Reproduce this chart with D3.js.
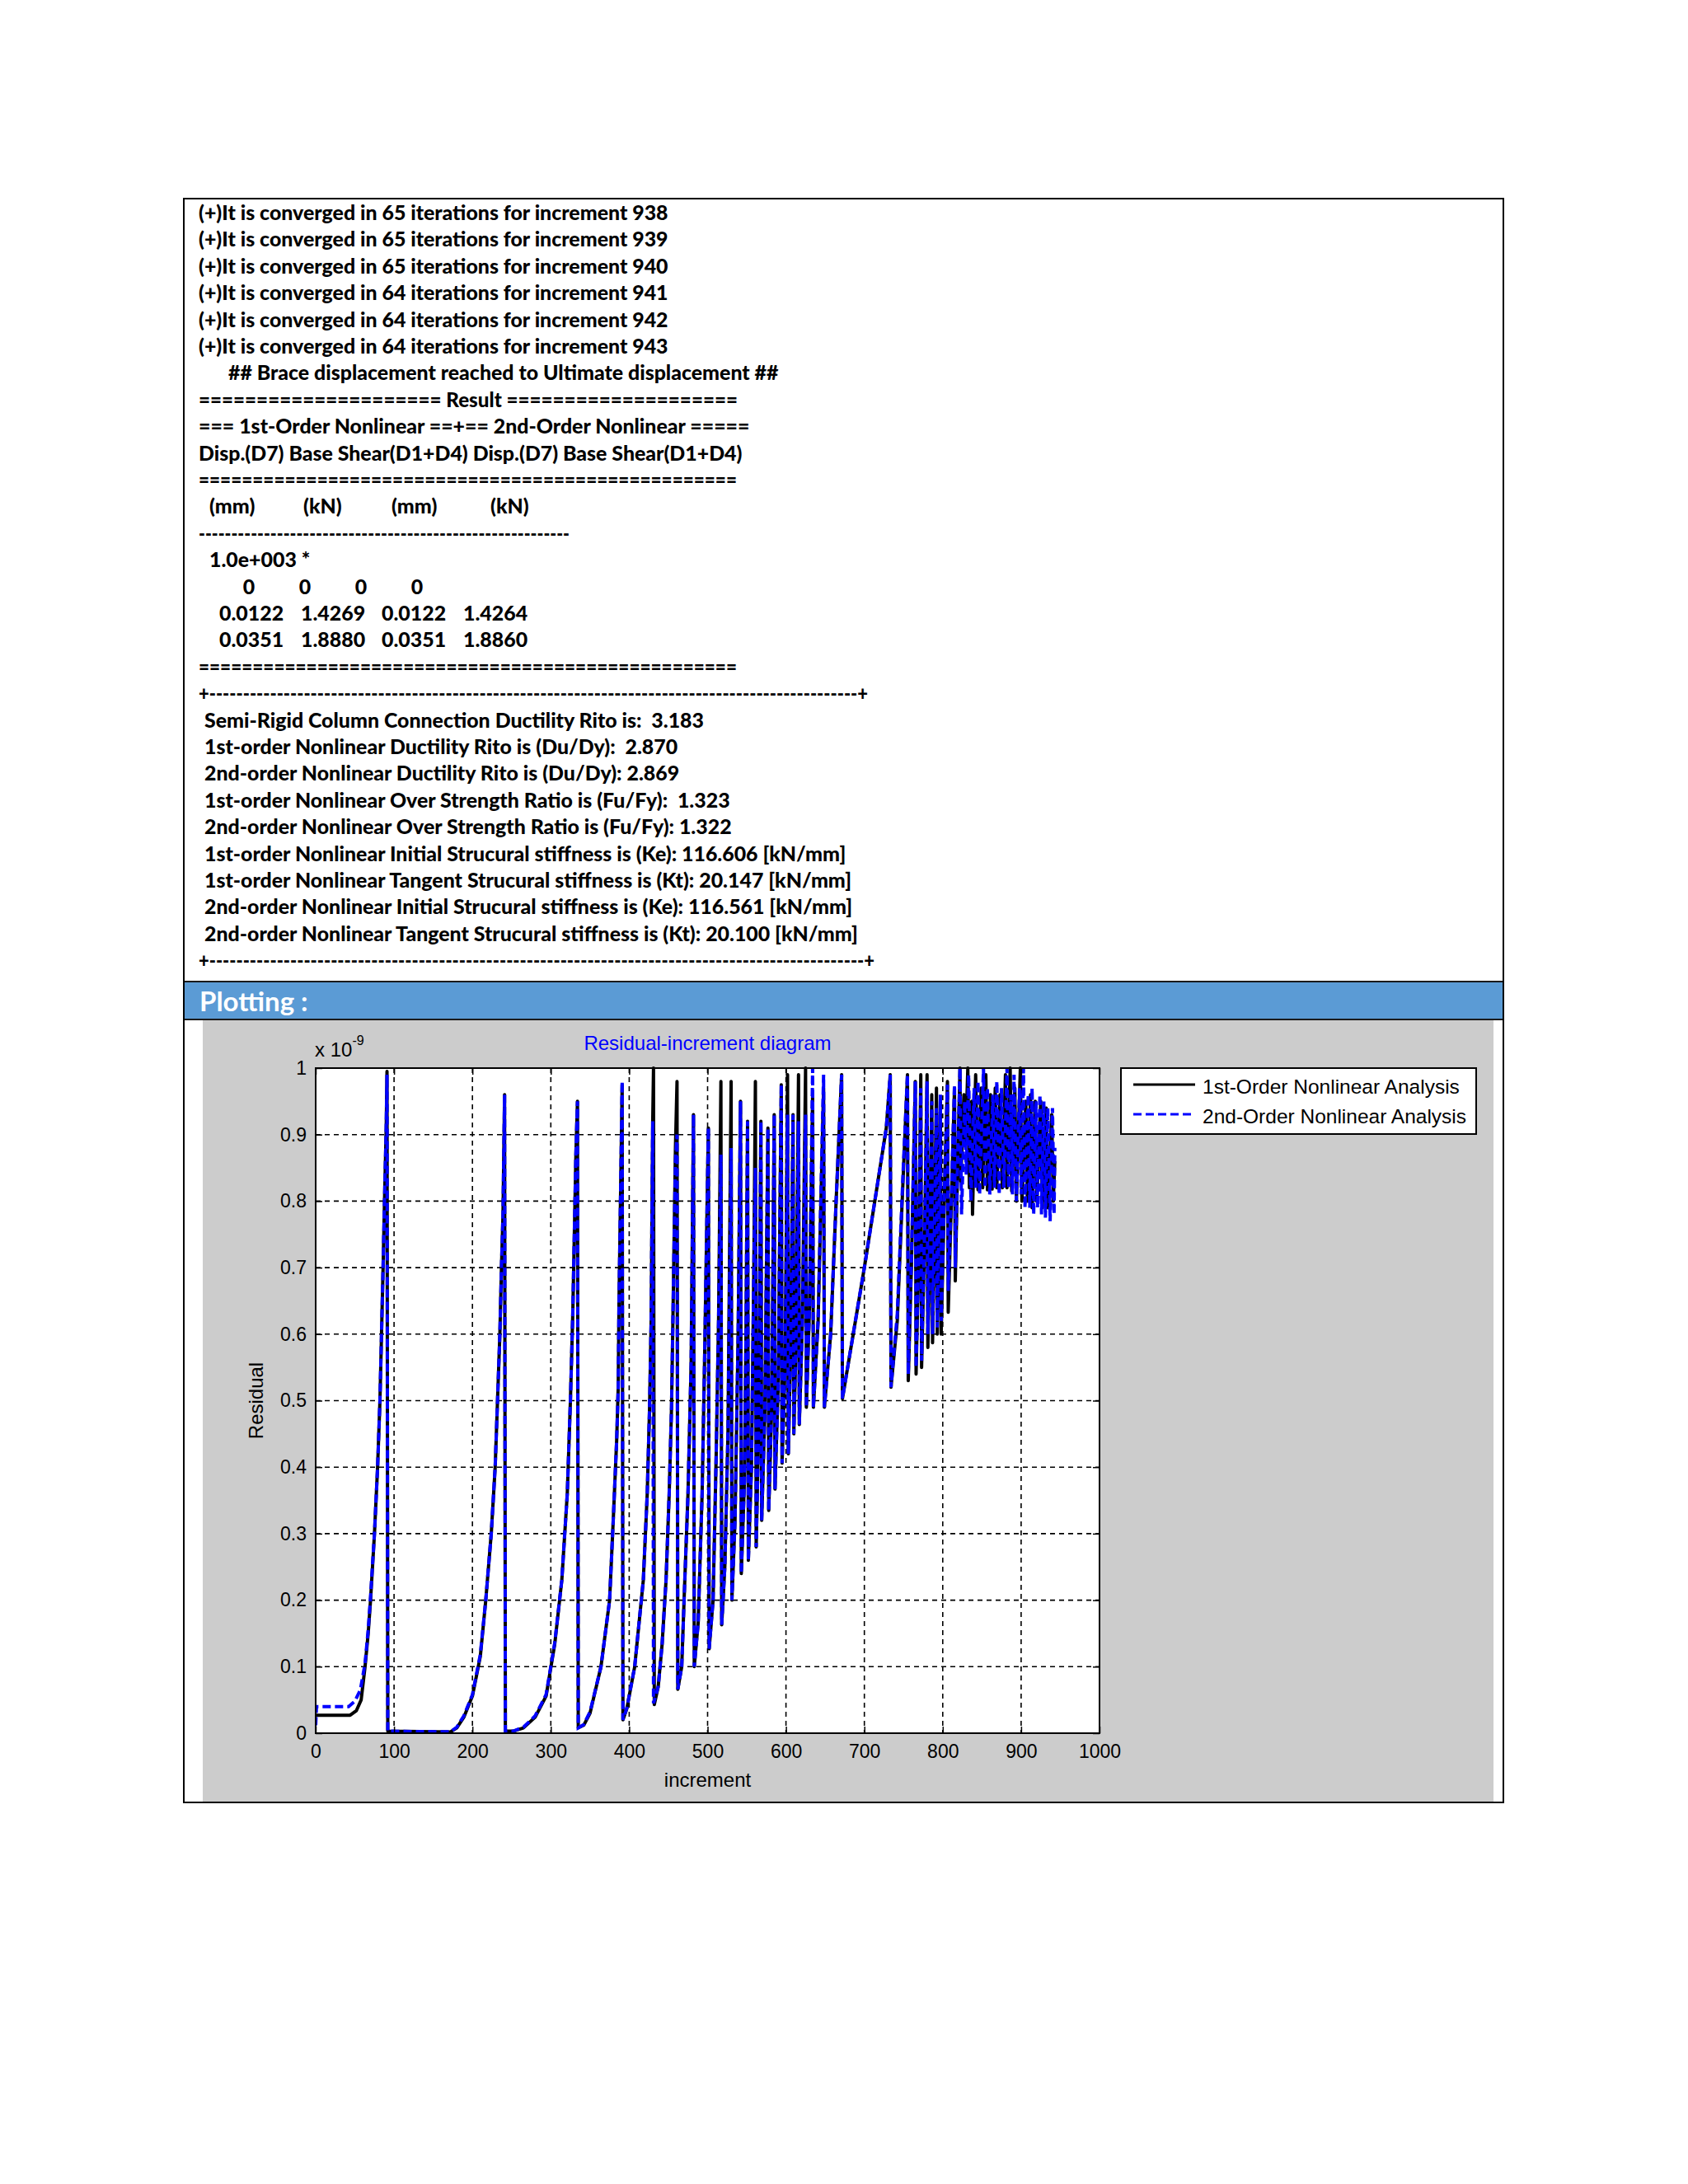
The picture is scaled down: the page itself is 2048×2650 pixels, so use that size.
<!DOCTYPE html>
<html>
<head>
<meta charset="utf-8">
<script src="https://cdn.jsdelivr.net/npm/d3@7"></script>
<style>
  body { margin: 0; background: #fff; }
  text { white-space: pre; }
</style>
</head>
<body>
<div id="chart"></div>
<script>
// ---- console text ----
const convergeLog = [
  "(+)It is converged in 65 iterations for increment 938",
  "(+)It is converged in 65 iterations for increment 939",
  "(+)It is converged in 65 iterations for increment 940",
  "(+)It is converged in 64 iterations for increment 941",
  "(+)It is converged in 64 iterations for increment 942",
  "(+)It is converged in 64 iterations for increment 943"
];
const braceNote = "## Brace displacement reached to Ultimate displacement ##";
const resultTitle = "===================== Result ====================";
const resultHeader = [
  "=== 1st-Order Nonlinear ==+== 2nd-Order Nonlinear =====",
  "Disp.(D7) Base Shear(D1+D4) Disp.(D7) Base Shear(D1+D4)"
];
const unitLabels = ["(mm)", "(kN)", "(mm)", "(kN)"];
const scaleNote = "1.0e+003 *";
const matrixRows = [
  ["0", "0", "0", "0"],
  ["0.0122", "1.4269", "0.0122", "1.4264"],
  ["0.0351", "1.8880", "0.0351", "1.8860"]
];
const summaryLines = [
  "Semi-Rigid Column Connection Ductility Rito is:  3.183",
  "1st-order Nonlinear Ductility Rito is (Du/Dy):  2.870",
  "2nd-order Nonlinear Ductility Rito is (Du/Dy): 2.869",
  "1st-order Nonlinear Over Strength Ratio is (Fu/Fy):  1.323",
  "2nd-order Nonlinear Over Strength Ratio is (Fu/Fy): 1.322",
  "1st-order Nonlinear Initial Strucural stiffness is (Ke): 116.606 [kN/mm]",
  "1st-order Nonlinear Tangent Strucural stiffness is (Kt): 20.147 [kN/mm]",
  "2nd-order Nonlinear Initial Strucural stiffness is (Ke): 116.561 [kN/mm]",
  "2nd-order Nonlinear Tangent Strucural stiffness is (Kt): 20.100 [kN/mm]"
];

// ---- chart data: [increment, residual (x1e-9)] ----
const seriesNames = ["1st-Order Nonlinear Analysis", "2nd-Order Nonlinear Analysis"];
const xTicks = [0, 100, 200, 300, 400, 500, 600, 700, 800, 900, 1000];
const xTickLabels = ["0", "100", "200", "300", "400", "500", "600", "700", "800", "900", "1000"];
const yTicks = [0, 0.1, 0.2, 0.3, 0.4, 0.5, 0.6, 0.7, 0.8, 0.9, 1];
const yTickLabels = ["0", "0.1", "0.2", "0.3", "0.4", "0.5", "0.6", "0.7", "0.8", "0.9", "1"];

const firstOrder = [
  [0,0.027],[44,0.027],[52,0.034],[58,0.05],[63,0.10],[67,0.15],[70,0.20],[75,0.30],[79,0.40],[82,0.50],[84,0.60],[86,0.70],[88,0.81],[90,0.91],[91,0.995],[92,0.003],
  [172,0.002],[180,0.008],[189,0.024],[200,0.056],[210,0.115],[217,0.20],[224,0.30],[229,0.40],[232,0.50],[235,0.60],[237,0.70],[239,0.78],[241,0.96],[242,0.003],
  [252,0.003],[265,0.008],[280,0.024],[294,0.056],[305,0.134],[314,0.23],[321,0.36],[325,0.50],[328,0.63],[330,0.75],[332,0.87],[334,0.95],[335,0.008],
  [342,0.012],[350,0.03],[364,0.10],[375,0.20],[380,0.33],[384,0.44],[386,0.52],[387,0.65],[389,0.81],[391,0.975],[392,0.02],
  [397,0.037],[407,0.10],[418,0.23],[423,0.36],[426,0.49],[428,0.62],[430,0.92],[431,1.0],[432,0.043],
  [437,0.07],[442,0.134],[447,0.23],[451,0.36],[454,0.49],[456,0.64],[459,0.88],[461,0.98],[462,0.066],
  [467,0.10],[470,0.20],[475,0.36],[479,0.555],[482,0.93],[483,0.10],
  [488,0.166],[493,0.36],[496,0.55],[501,0.91],[502,0.127],
  [507,0.20],[511,0.42],[514,0.62],[517,0.98],[518,0.163],
  [522,0.25],[526,0.45],[530,0.98],[531,0.20],
  [535,0.32],[539,0.60],[542,0.95],[543,0.24],
  [547,0.38],[549,0.60],[551,0.92],[552,0.26],
  [556,0.40],[559,0.70],[561,0.98],[562,0.28],
  [565,0.45],[568,0.92],[569,0.32],
  [573,0.48],[577,0.91],[578,0.335],
  [582,0.50],[585,0.93],[586,0.367],
  [590,0.52],[594,0.975],[595,0.406],
  [599,0.56],[602,0.99],[603,0.42],
  [606,0.58],[609,0.93],[610,0.45],
  [613,0.60],[616,0.99],[617,0.464],
  [621,0.62],[625,1.0],[626,0.49],
  [630,0.64],[634,0.96],[635,0.49],
  [641,0.62],[648,0.97],[649,0.49],
  [657,0.60],[664,0.80],[671,0.99],[672,0.503],
  [700,0.70],[728,0.91],[733,0.99],[734,0.52],
  [742,0.62],[750,0.85],[755,0.99],[756,0.53],
  [760,0.70],[765,0.98],[766,0.54],
  [769,0.70],[772,0.99],[773,0.55],
  [777,0.75],[780,0.99],[781,0.58],
  [783,0.70],[786,0.96],[787,0.587],
  [789,0.72],[792,0.97],[793,0.60],
  [795,0.75],[797,0.95],[798,0.60],
  [802,0.80],[806,0.98],[807,0.633],
  [811,0.80],[815,0.97],[816,0.68],
  [819,0.85],[822,1.0],[823,0.83],[827,0.96],[829,0.885],[832,1.0],[834,0.82],[837,0.95],[838,0.78],
  [842,0.99],[845,0.817],[849,0.97],[851,0.82],[855,0.99],[857,0.817],[861,0.96],[863,0.818],
  [867,0.97],[869,0.82],[873,0.96],[876,0.82],[880,0.99],[882,0.82],[886,1.0],[888,0.815],
  [892,0.97],[894,0.80],[899,1.0],[901,0.80],[906,0.95],[908,0.80],[912,0.96],[914,0.79],
  [918,0.95],[920,0.80],[925,0.95],[927,0.79],[932,0.94],[934,0.79],[939,0.93],[941,0.80],[943,0.86]
];

const secondOrder = [
  [0,0.012],[1,0.04],[42,0.04],[50,0.048],[57,0.065],[63,0.105],[67,0.155],[70,0.205],[75,0.30],[79,0.40],[82,0.50],[84,0.60],[86,0.70],[88,0.81],[90,0.91],[91,0.99],[92,0.003],
  [172,0.002],[180,0.009],[189,0.026],[200,0.058],[210,0.118],[217,0.20],[224,0.30],[229,0.40],[232,0.50],[235,0.60],[237,0.70],[239,0.78],[241,0.96],[242,0.003],
  [252,0.003],[265,0.009],[280,0.026],[294,0.058],[305,0.136],[314,0.23],[321,0.36],[325,0.50],[328,0.63],[330,0.75],[332,0.87],[334,0.95],[335,0.008],
  [342,0.013],[350,0.032],[364,0.10],[375,0.20],[380,0.33],[384,0.44],[386,0.52],[387,0.65],[389,0.81],[391,0.98],[392,0.02],
  [397,0.038],[407,0.10],[418,0.23],[423,0.36],[426,0.49],[428,0.62],[430,0.92],[431,0.045],
  [437,0.07],[442,0.134],[447,0.23],[451,0.36],[454,0.49],[456,0.64],[459,0.86],[461,0.90],[462,0.066],
  [467,0.10],[470,0.20],[475,0.36],[479,0.555],[482,0.93],[483,0.10],
  [488,0.166],[493,0.36],[496,0.55],[501,0.91],[502,0.127],
  [507,0.20],[511,0.42],[514,0.62],[517,0.87],[518,0.163],
  [522,0.25],[526,0.45],[530,0.88],[531,0.20],
  [535,0.32],[539,0.60],[542,0.95],[543,0.24],
  [547,0.38],[549,0.60],[551,0.92],[552,0.26],
  [556,0.40],[559,0.70],[561,0.85],[562,0.28],
  [565,0.45],[568,0.92],[569,0.32],
  [573,0.48],[577,0.91],[578,0.335],
  [582,0.50],[585,0.93],[586,0.367],
  [590,0.52],[594,0.975],[595,0.406],
  [599,0.56],[602,0.93],[603,0.42],
  [606,0.58],[609,0.93],[610,0.45],
  [613,0.60],[616,0.92],[617,0.464],
  [621,0.62],[625,0.93],[626,0.49],
  [630,0.64],[634,1.0],[635,0.49],
  [641,0.62],[648,0.99],[649,0.49],
  [657,0.60],[664,0.80],[671,0.99],[672,0.503],
  [700,0.70],[728,0.91],[733,0.99],[734,0.52],
  [742,0.63],[750,0.86],[755,0.99],[756,0.54],
  [760,0.71],[765,0.98],[766,0.55],
  [769,0.71],[772,0.97],[773,0.56],
  [777,0.76],[780,0.98],[781,0.60],
  [783,0.71],[786,0.95],[787,0.60],
  [789,0.73],[792,0.94],[793,0.61],
  [795,0.76],[797,0.96],[798,0.62],
  [802,0.81],[806,0.975],[807,0.665],
  [811,0.81],[815,0.975],[816,0.70],
  [819,0.86],[822,1.0],[824,0.78],[828,0.95],[830,0.84],[833,0.99],[836,0.80],[840,0.97],[842,0.82],
  [845,0.98],[847,0.81],[852,1.0],[854,0.82],[857,0.97],[860,0.81],[864,0.96],[866,0.82],
  [869,0.98],[872,0.81],[875,0.97],[878,0.82],[882,1.0],[884,0.82],[887,0.96],[889,0.81],
  [891,0.99],[894,0.80],[898,0.97],[900,0.81],[903,1.0],[905,0.79],[909,0.96],[911,0.79],
  [914,0.97],[916,0.78],[919,0.95],[921,0.79],[924,0.96],[926,0.78],[929,0.95],[931,0.775],
  [934,0.94],[937,0.77],[940,0.94],[942,0.78],[943,0.88]
];

// ---- page ----
const W = 2048, H = 2650;
const svg = d3.select("#chart").append("svg").attr("width", W).attr("height", H);
svg.append("rect").attr("width", W).attr("height", H).attr("fill", "#fff");

function fitSize(str, family, weight, target) {
  const t = svg.append("text").attr("font-family", family).attr("font-weight", weight)
    .attr("font-size", 100).text(str);
  const w = t.node().getComputedTextLength();
  t.remove();
  return 100 * target / w;
}

const bodyFont = "Lato, 'Open Sans', sans-serif";
const bodyWeight = 900;
const bodySize = fitSize(convergeLog[0], bodyFont, bodyWeight, 570);
const rowY = i => 260 + 32.4 * i + 7;

const txt = svg.append("g").attr("font-family", bodyFont).attr("font-weight", bodyWeight)
  .attr("font-size", bodySize).attr("fill", "#000");

function line(str, x, row, fitWidth) {
  const t = txt.append("text").attr("x", x).attr("y", rowY(row)).text(str);
  if (fitWidth) t.attr("textLength", fitWidth).attr("lengthAdjust", "spacingAndGlyphs");
  return t;
}

convergeLog.forEach((s, i) => line(s, 241, i));
line(braceNote, 277, 6);
line(resultTitle, 241, 7, 654);
resultHeader.forEach((s, i) => line(s, 241, 8 + i));
line("=".repeat(50), 241, 10, 653);
[254, 368, 475, 595].forEach((x, i) => line(unitLabels[i], x, 11));
line("-".repeat(57), 241, 12, 450);
line(scaleNote, 254, 13);
[302, 370, 438, 506].forEach((x, i) => line(matrixRows[0][i], x, 14).attr("text-anchor", "middle"));
matrixRows.slice(1).forEach((r, j) =>
  [266, 365, 463, 562].forEach((x, i) => line(r[i], x, 15 + j)));
line("=".repeat(50), 241, 17, 653);
line("+" + "-".repeat(96) + "+", 241, 18, 812);
summaryLines.forEach((s, i) => line(s, 248, 19 + i));
line("+" + "-".repeat(97) + "+", 241, 28, 820);

// ---- frame, title bar, figure panel ----
svg.append("rect").attr("x", 246).attr("y", 1238).attr("width", 1566).attr("height", 948).attr("fill", "#cccccc");
svg.append("rect").attr("x", 223).attr("y", 1191).attr("width", 1601).attr("height", 46)
  .attr("fill", "#5b9bd5").attr("stroke", "#1a1a1a").attr("stroke-width", 2);
svg.append("text").attr("x", 242).attr("y", 1227).attr("font-family", bodyFont)
  .attr("font-weight", "bold").attr("font-size", 33).attr("fill", "#fff").text("Plotting :");
svg.append("rect").attr("x", 223).attr("y", 241).attr("width", 1601).attr("height", 1946)
  .attr("fill", "none").attr("stroke", "#000").attr("stroke-width", 2);

// ---- axes ----
const plotFont = "'Liberation Sans', Arial, Helvetica, sans-serif";
const L = 383, R = 1334, T = 1296, B = 2103;
const x = d3.scaleLinear().domain([0, 1000]).range([L, R]);
const y = d3.scaleLinear().domain([0, 1]).range([B, T]);

svg.append("rect").attr("x", L).attr("y", T).attr("width", R - L).attr("height", B - T).attr("fill", "#fff");

const grid = svg.append("g").attr("stroke", "#000").attr("stroke-width", 1.6).attr("stroke-dasharray", "6,5");
grid.selectAll(".gx").data(xTicks.slice(1, -1)).join("line")
  .attr("x1", d => x(d)).attr("x2", d => x(d)).attr("y1", T).attr("y2", B);
grid.selectAll(".gy").data(yTicks.slice(1, -1)).join("line")
  .attr("y1", d => y(d)).attr("y2", d => y(d)).attr("x1", L).attr("x2", R);

svg.append("defs").append("clipPath").attr("id", "plotClip")
  .append("rect").attr("x", L).attr("y", T - 2).attr("width", R - L).attr("height", B - T + 2);

const path = d3.line().x(d => x(d[0])).y(d => y(d[1]));
const plot = svg.append("g").attr("clip-path", "url(#plotClip)").attr("fill", "none");
plot.append("path").datum(firstOrder).attr("d", path)
  .attr("stroke", "#000").attr("stroke-width", 4).attr("stroke-linejoin", "round");
plot.append("path").datum(secondOrder).attr("d", path)
  .attr("stroke", "#0000ff").attr("stroke-width", 4).attr("stroke-dasharray", "10,5");

function styleAxis(g) {
  g.attr("font-family", plotFont).attr("font-size", 23);
  g.select(".domain").remove();
  g.selectAll(".tick line").attr("stroke", "#000").attr("stroke-width", 1.5);
  g.selectAll(".tick text").attr("fill", "#000");
}
svg.append("g").attr("transform", `translate(0,${B})`)
  .call(d3.axisBottom(x).tickValues(xTicks).tickFormat((d, i) => xTickLabels[i]).tickSize(-8).tickSizeOuter(0).tickPadding(14))
  .call(styleAxis);
svg.append("g").attr("transform", `translate(${L},0)`)
  .call(d3.axisLeft(y).tickValues(yTicks).tickFormat((d, i) => yTickLabels[i]).tickSize(-8).tickSizeOuter(0).tickPadding(11))
  .call(styleAxis);
svg.append("g").attr("transform", `translate(0,${T})`)
  .call(d3.axisTop(x).tickValues(xTicks).tickFormat("").tickSize(-8).tickSizeOuter(0)).call(styleAxis);
svg.append("g").attr("transform", `translate(${R},0)`)
  .call(d3.axisRight(y).tickValues(yTicks).tickFormat("").tickSize(-8).tickSizeOuter(0)).call(styleAxis);

svg.append("rect").attr("x", L).attr("y", T).attr("width", R - L).attr("height", B - T)
  .attr("fill", "none").attr("stroke", "#000").attr("stroke-width", 2);

const labels = svg.append("g").attr("font-family", plotFont).attr("font-size", 24).attr("fill", "#000");
labels.append("text").attr("x", (L + R) / 2).attr("y", 1274).attr("text-anchor", "middle")
  .attr("fill", "#0000ff").text("Residual-increment diagram");
labels.append("text").attr("x", (L + R) / 2).attr("y", 2168).attr("text-anchor", "middle").text("increment");
labels.append("text").attr("transform", `translate(319,${(T + B) / 2}) rotate(-90)`)
  .attr("text-anchor", "middle").text("Residual");
const expo = labels.append("text").attr("x", 382).attr("y", 1282);
expo.append("tspan").text("x 10");
expo.append("tspan").attr("font-size", 16).attr("dy", -14).text("-9");

// ---- legend ----
const lg = svg.append("g").attr("font-family", plotFont).attr("font-size", 24.5);
lg.append("rect").attr("x", 1360).attr("y", 1296).attr("width", 431).attr("height", 80)
  .attr("fill", "#fff").attr("stroke", "#000").attr("stroke-width", 2);
const legendStyles = [
  { color: "#000", dash: null },
  { color: "#0000ff", dash: "10,5" }
];
seriesNames.forEach((name, i) => {
  const cy = 1316 + 36 * i;
  lg.append("line").attr("x1", 1375).attr("x2", 1450).attr("y1", cy).attr("y2", cy)
    .attr("stroke", legendStyles[i].color).attr("stroke-width", 3)
    .attr("stroke-dasharray", legendStyles[i].dash);
  lg.append("text").attr("x", 1459).attr("y", cy + 11).attr("fill", "#000").text(name);
});
</script>
</body>
</html>
